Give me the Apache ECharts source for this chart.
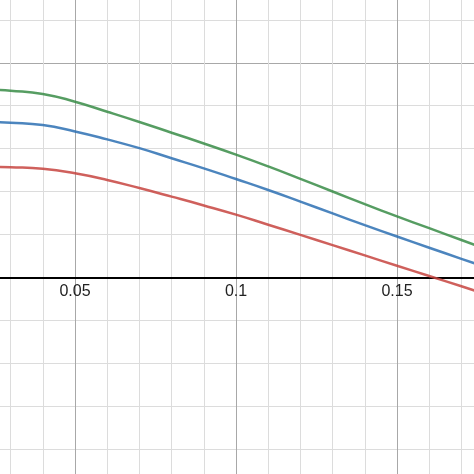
<!DOCTYPE html>
<html>
<head>
<meta charset="utf-8">
<script src="https://cdn.jsdelivr.net/npm/echarts@6/dist/echarts.min.js"></script>
<style>
  html, body { margin: 0; padding: 0; background: #fff; }
  #main { width: 474px; height: 474px; }
</style>
</head>
<body>
<div id="main"></div>
<script>
// values
var xs = [0.024, 0.03, 0.04, 0.05, 0.06, 0.07, 0.08, 0.09, 0.10, 0.11, 0.12, 0.13, 0.14, 0.15, 0.16, 0.17, 0.176];
var green = [4.375, 4.35, 4.275, 4.093, 3.86, 3.62, 3.37, 3.12, 2.86, 2.585, 2.295, 2.0, 1.705, 1.42, 1.145, 0.87, 0.705];
var blue = [3.62, 3.605, 3.55, 3.40, 3.215, 3.01, 2.775, 2.54, 2.29, 2.035, 1.765, 1.49, 1.215, 0.95, 0.69, 0.43, 0.275];
var red = [2.575, 2.566, 2.53, 2.425, 2.27, 2.08, 1.88, 1.675, 1.46, 1.225, 0.99, 0.75, 0.51, 0.27, 0.03, -0.21, -0.355];
var xLabels = ['0.05', '0.1', '0.15'];

function pts(ys) {
  return xs.map(function (x, i) { return [x, ys[i]]; });
}

var chart = echarts.init(document.getElementById('main'));

// grid is larger than the window so the ticks start at round numbers
var xMin = 0, xMax = 0.2, yMin = -5, yMax = 10;
var gridTop = -151.7, gridH = 643.5;
// distance from the grid bottom up to y = 0
var zeroOffset = -gridH * (0 - yMin) / (yMax - yMin);

var minorLine = { show: true, lineStyle: { color: '#dcdcdc', width: 1 } };
var majorLine = { show: true, lineStyle: { color: '#a8a8a8', width: 1 } };

var option = {
  animation: false,
  backgroundColor: '#fff',
  grid: { left: -86, top: gridTop, width: 644, height: gridH, outerBoundsMode: 'none', containLabel: false },
  xAxis: [
    {
      type: 'value', min: xMin, max: xMax, interval: 0.01, position: 'bottom',
      axisLine: { show: false, onZero: false }, axisTick: { show: false }, axisLabel: { show: false },
      splitLine: minorLine
    },
    {
      type: 'value', min: xMin, max: xMax, interval: 0.05, position: 'bottom',
      offset: zeroOffset,
      axisLine: { show: true, onZero: false, lineStyle: { color: '#000', width: 2 } },
      axisTick: { show: false },
      axisLabel: {
        show: true, margin: 6, fontSize: 16, color: '#222',
        fontFamily: 'Liberation Sans, Arial, sans-serif',
        formatter: function (v) {
          var s = String(+v.toFixed(2));
          return xLabels.indexOf(s) >= 0 ? s : '';
        }
      },
      splitLine: majorLine
    }
  ],
  yAxis: [
    {
      type: 'value', min: yMin, max: yMax, interval: 1, position: 'left',
      axisLine: { show: false, onZero: false }, axisTick: { show: false }, axisLabel: { show: false },
      splitLine: minorLine
    },
    {
      type: 'value', min: yMin, max: yMax, interval: 5, position: 'left',
      axisLine: { show: false, onZero: false }, axisTick: { show: false }, axisLabel: { show: false },
      splitLine: majorLine
    }
  ],
  series: [
    { name: 'red', type: 'line', smooth: true, showSymbol: false, data: pts(red),
      lineStyle: { color: '#c74440', width: 2.5, opacity: 0.85 } },
    { name: 'blue', type: 'line', smooth: true, showSymbol: false, data: pts(blue),
      lineStyle: { color: '#2d70b3', width: 2.5, opacity: 0.85 } },
    { name: 'green', type: 'line', smooth: true, showSymbol: false, data: pts(green),
      lineStyle: { color: '#388c46', width: 2.5, opacity: 0.85 } }
  ]
};

chart.setOption(option);
</script>
</body>
</html>
